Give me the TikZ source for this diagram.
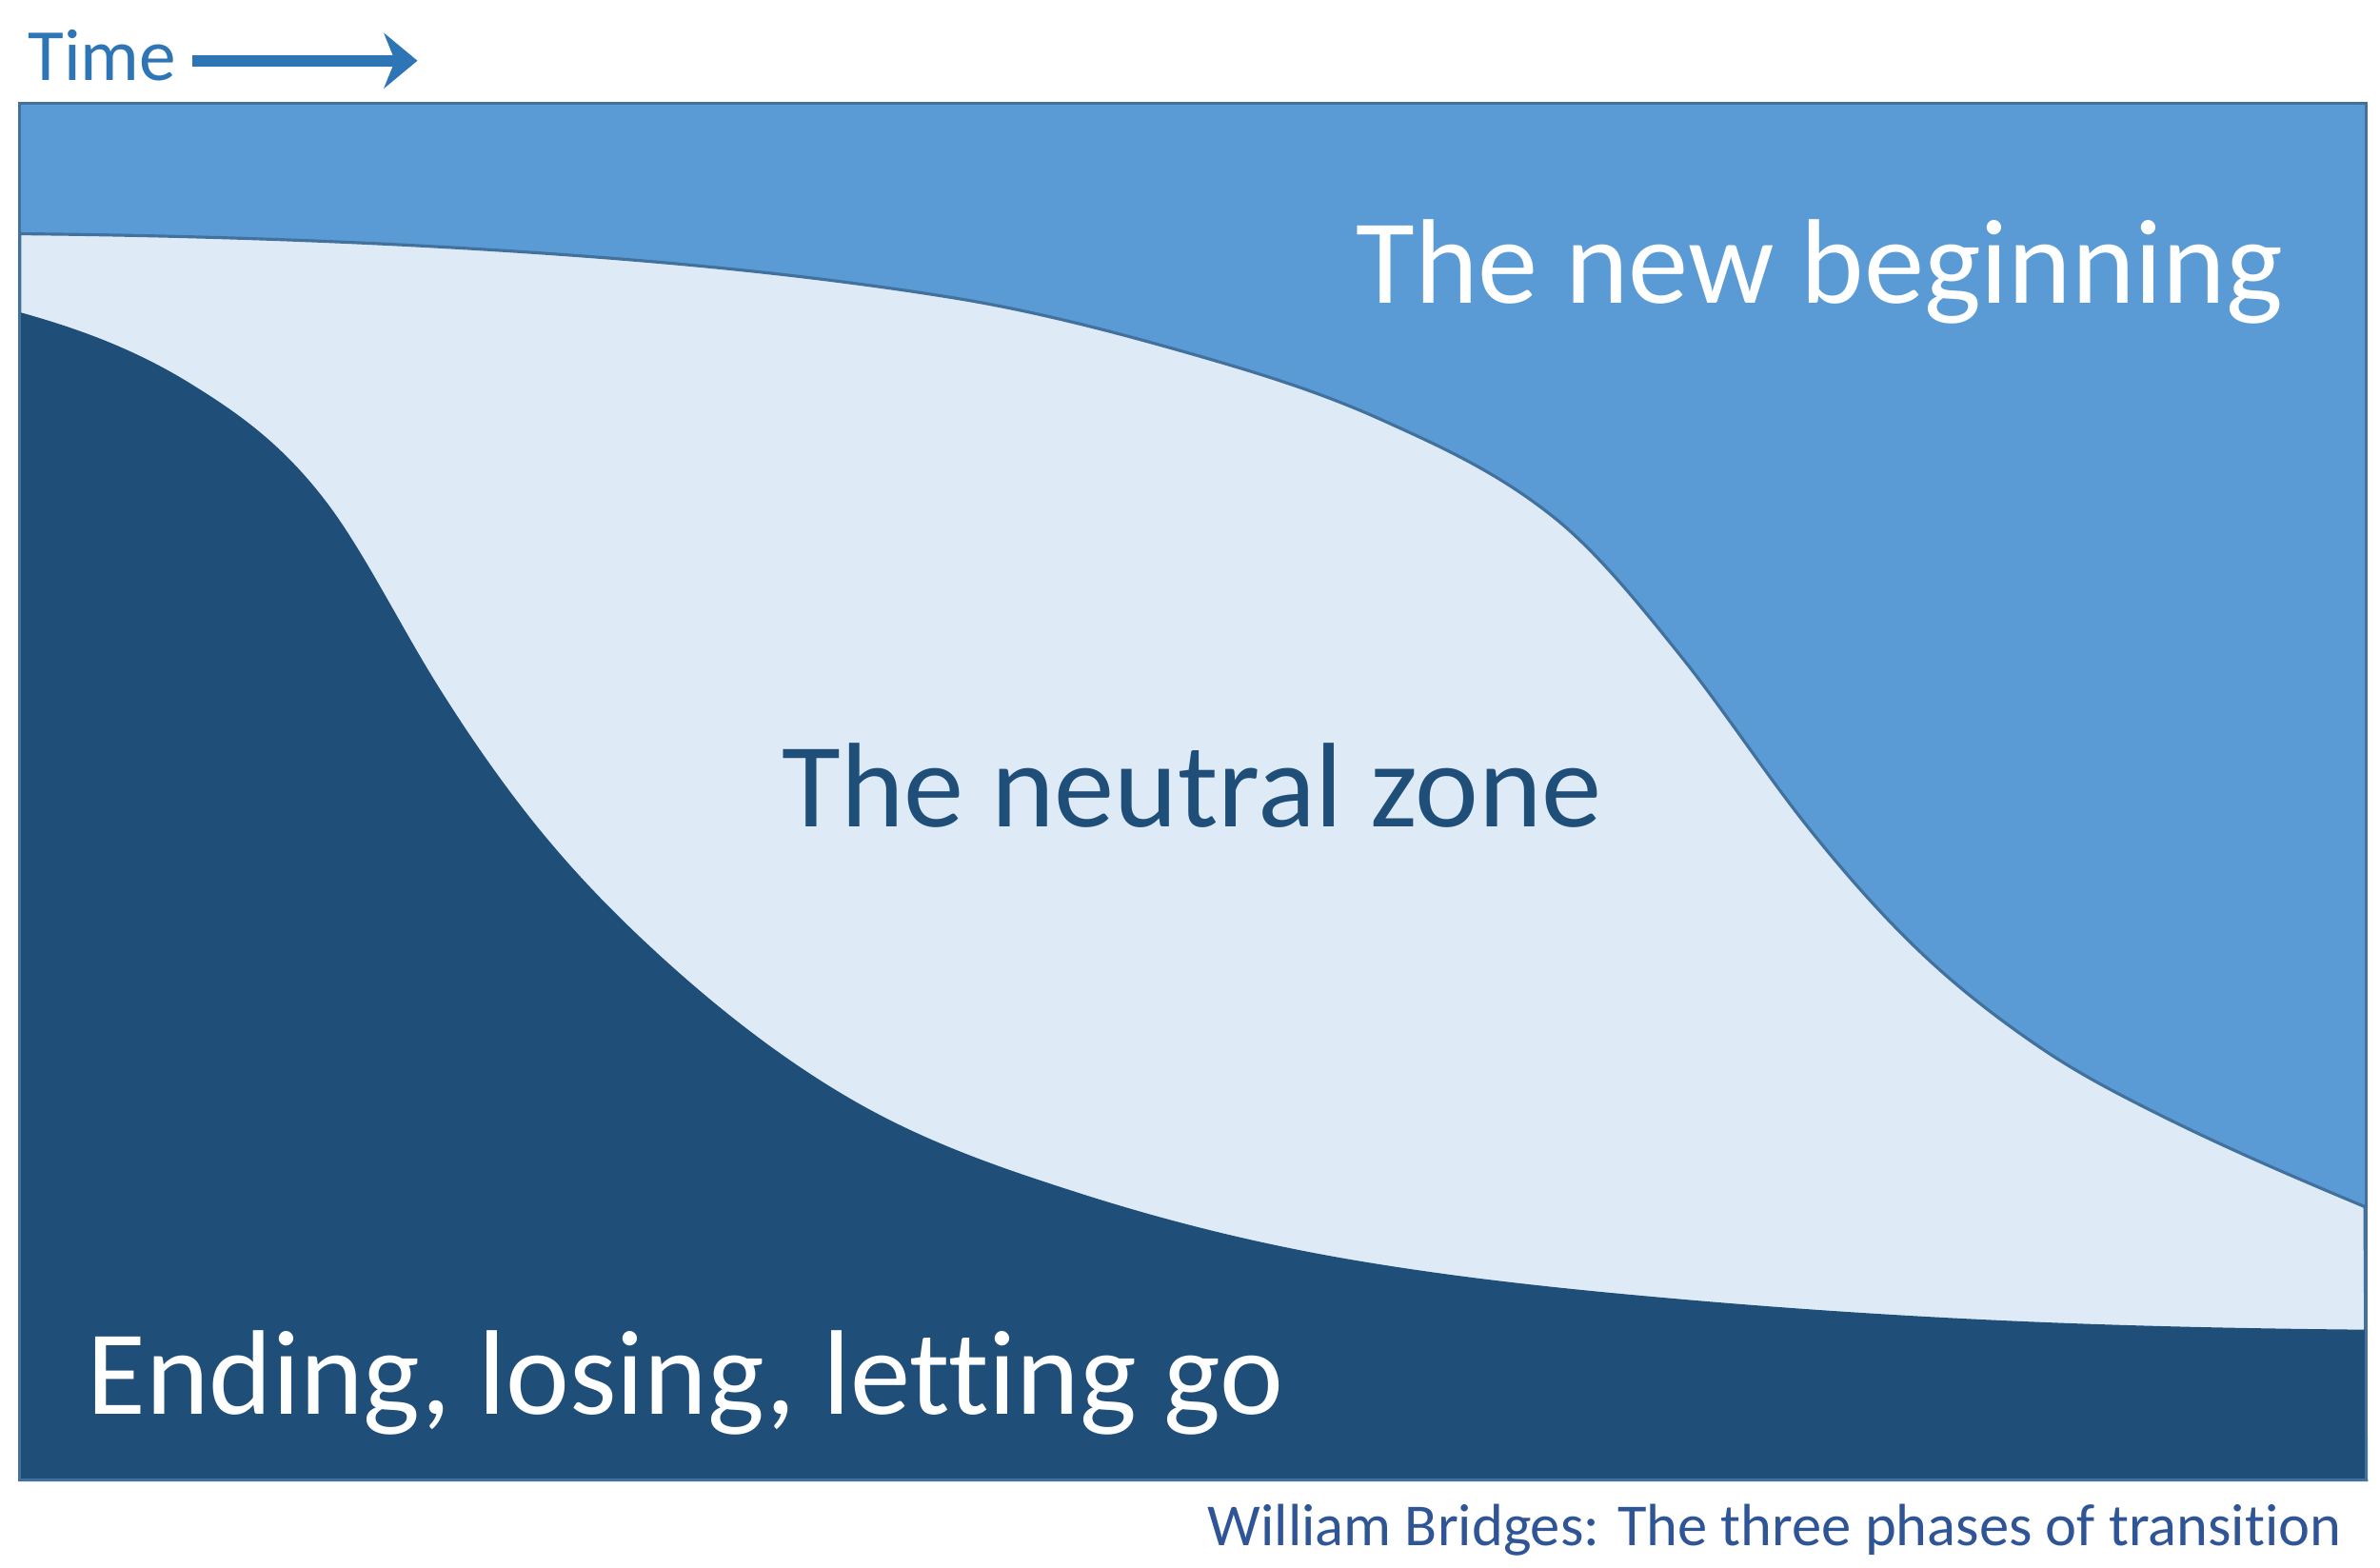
\documentclass[tikz,border=0pt]{standalone}
\usepackage{fontspec}
\setmainfont{Carlito}[Ligatures=NoCommon]
\usetikzlibrary{arrows.meta}
\definecolor{midblue}{HTML}{5B9BD5}
\definecolor{lightblue}{HTML}{DEEBF7}
\definecolor{darkblue}{HTML}{1F4E79}
\definecolor{edgeblue}{HTML}{41719C}
\definecolor{timeblue}{HTML}{2E75B6}
\definecolor{capblue}{HTML}{2F5597}
\tikzset{
  bigtext/.style={anchor=base west, inner sep=0pt, font=\fontsize{36}{40}\selectfont},
}
\begin{document}
\begin{tikzpicture}[x=0.015944cm,y=-0.015944cm]
\useasboundingbox (0,0) rectangle (1568,1032.4);
\fill[white] (0,0) rectangle (1568,1032.4);
% new beginning (background)
\fill[midblue] (13,68) rectangle (1559,975);
% neutral zone
\filldraw[fill=lightblue, draw=edgeblue, line width=0.9pt]
  (13,154) .. controls (113.3,155.0) and (213.7,158.0) .. (314,164)
  .. controls (418.3,170.3) and (522.7,179.3) .. (627,196)
  .. controls (683,205.0) and (739,219.8) .. (795,236)
  .. controls (833,247.0) and (871,258.9) .. (909,276)
  .. controls (947.3,293.3) and (985.7,310.3) .. (1024,341)
  .. controls (1052,363.4) and (1080,398) .. (1108,433)
  .. controls (1136,468) and (1164,511) .. (1192,546)
  .. controls (1216.3,576.4) and (1240.7,603.9) .. (1265,627)
  .. controls (1291.3,652.0) and (1317.7,672.1) .. (1344,690)
  .. controls (1370,707.7) and (1396,721) .. (1422,734)
  .. controls (1467.3,756.7) and (1512.7,776.0) .. (1558,795)
  -- (1559,975) -- (13,975) -- cycle;
% ending
\fill[darkblue]
  (13,205.7) .. controls (50.7,216.2) and (88.3,229.6) .. (126,253)
  .. controls (156,271.6) and (186,292.1) .. (216,332)
  .. controls (240,363.9) and (264,412.6) .. (288,451)
  .. controls (312,489.4) and (336,523.2) .. (360,552)
  .. controls (384,580.8) and (408,604.9) .. (432,627)
  .. controls (476,667.5) and (520,700.9) .. (564,726)
  .. controls (613,753.9) and (662,770.3) .. (711,786)
  .. controls (771,805.2) and (831,819.8) .. (891,830)
  .. controls (967.3,843.0) and (1043.7,850.5) .. (1120,857)
  .. controls (1213.3,864.9) and (1306.7,870.2) .. (1400,873)
  .. controls (1453,874.6) and (1506,875.5) .. (1559,876)
  -- (1559,975) -- (13,975) -- cycle;
% frame
\draw[edgeblue, line width=1pt] (13,68) rectangle (1559,975);
% texts
\node[bigtext, text=white] (newb) at (893,200) {The new beginning};
\node[bigtext, text=darkblue] (neutral) at (515,545) {The neutral zone};
\node[bigtext, text=white] (ending) at (57,932) {Ending, losing, letting go};
\node[anchor=base west, inner sep=0pt, text=timeblue, font=\fontsize{22}{24}\selectfont] (time) at (18,53) {Time};
\coordinate (tend) at (275,40);
\draw[timeblue, line width=3.3pt, -{Stealth[length=10pt, width=16.5pt, inset=3.3pt]}] (127,40) -- (tend);
\node[anchor=base east, inner sep=0pt, text=capblue, font=\fontsize{17.8}{20}\selectfont] (caption) at (1543,1018) {William Bridges: The three phases of transition};
\end{tikzpicture}
\end{document}
